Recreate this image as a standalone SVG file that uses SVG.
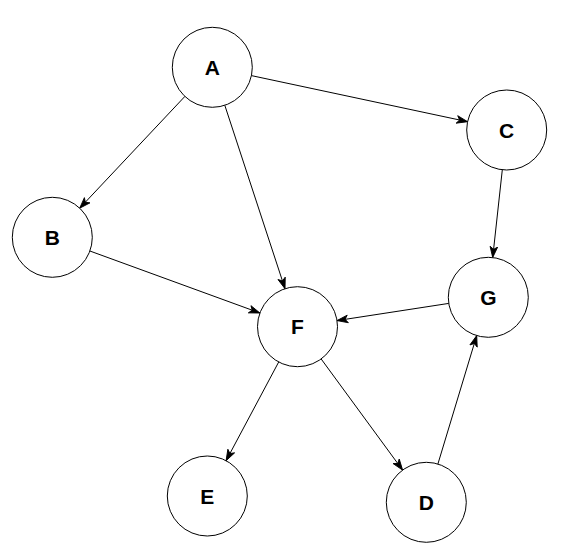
<svg xmlns="http://www.w3.org/2000/svg" width="569" height="556" viewBox="0 0 569 556">
<style>
.node circle{fill:#fff;stroke:#000;stroke-width:1}
.node text{font-family:"Liberation Sans",Arial,sans-serif;font-weight:bold;font-size:21px;text-anchor:middle;dominant-baseline:central;fill:#000}
.edges line{stroke:#000;stroke-width:1;marker-end:url(#arr)}
</style>
<defs>
<marker id="arr" markerUnits="userSpaceOnUse" markerWidth="12" markerHeight="10" viewBox="0 0 11 8" refX="10.5" refY="4" orient="auto">
<path d="M0.5,0.5 L10.5,4 L0.5,7.5 L3,4 Z" fill="#000" stroke="#000" stroke-width="0.8" stroke-linejoin="miter"/>
</marker>
</defs>
<rect width="569" height="556" fill="#fff"/>
<g id="edges" class="edges">
<line x1="251.4" y1="75.6" x2="467.6" y2="121.7"/>
<line x1="184.9" y1="96.4" x2="79.7" y2="208.2"/>
<line x1="224.8" y1="105.3" x2="285.0" y2="288.7"/>
<line x1="89.9" y1="251.0" x2="259.9" y2="313.0"/>
<line x1="502.3" y1="169.8" x2="492.7" y2="257.5"/>
<line x1="448.8" y1="303.4" x2="337.0" y2="320.6"/>
<line x1="278.7" y1="362.0" x2="226.1" y2="460.7"/>
<line x1="321.2" y1="359.0" x2="402.6" y2="470.1"/>
<line x1="437.9" y1="464.0" x2="476.7" y2="335.6"/>
</g>
<g id="A" class="node"><circle cx="212.3" cy="67.3" r="40"/><text x="212.3" y="67.3">A</text></g>
<g id="B" class="node"><circle cx="52.3" cy="237.3" r="40"/><text x="52.3" y="237.3">B</text></g>
<g id="C" class="node"><circle cx="506.7" cy="130" r="40"/><text x="506.7" y="130">C</text></g>
<g id="G" class="node"><circle cx="488.3" cy="297.3" r="40"/><text x="488.3" y="297.3">G</text></g>
<g id="F" class="node"><circle cx="297.5" cy="326.7" r="40"/><text x="297.5" y="326.7">F</text></g>
<g id="E" class="node"><circle cx="207.3" cy="496" r="40"/><text x="207.3" y="496">E</text></g>
<g id="D" class="node"><circle cx="426.3" cy="502.3" r="40"/><text x="426.3" y="502.3">D</text></g>
</svg>
